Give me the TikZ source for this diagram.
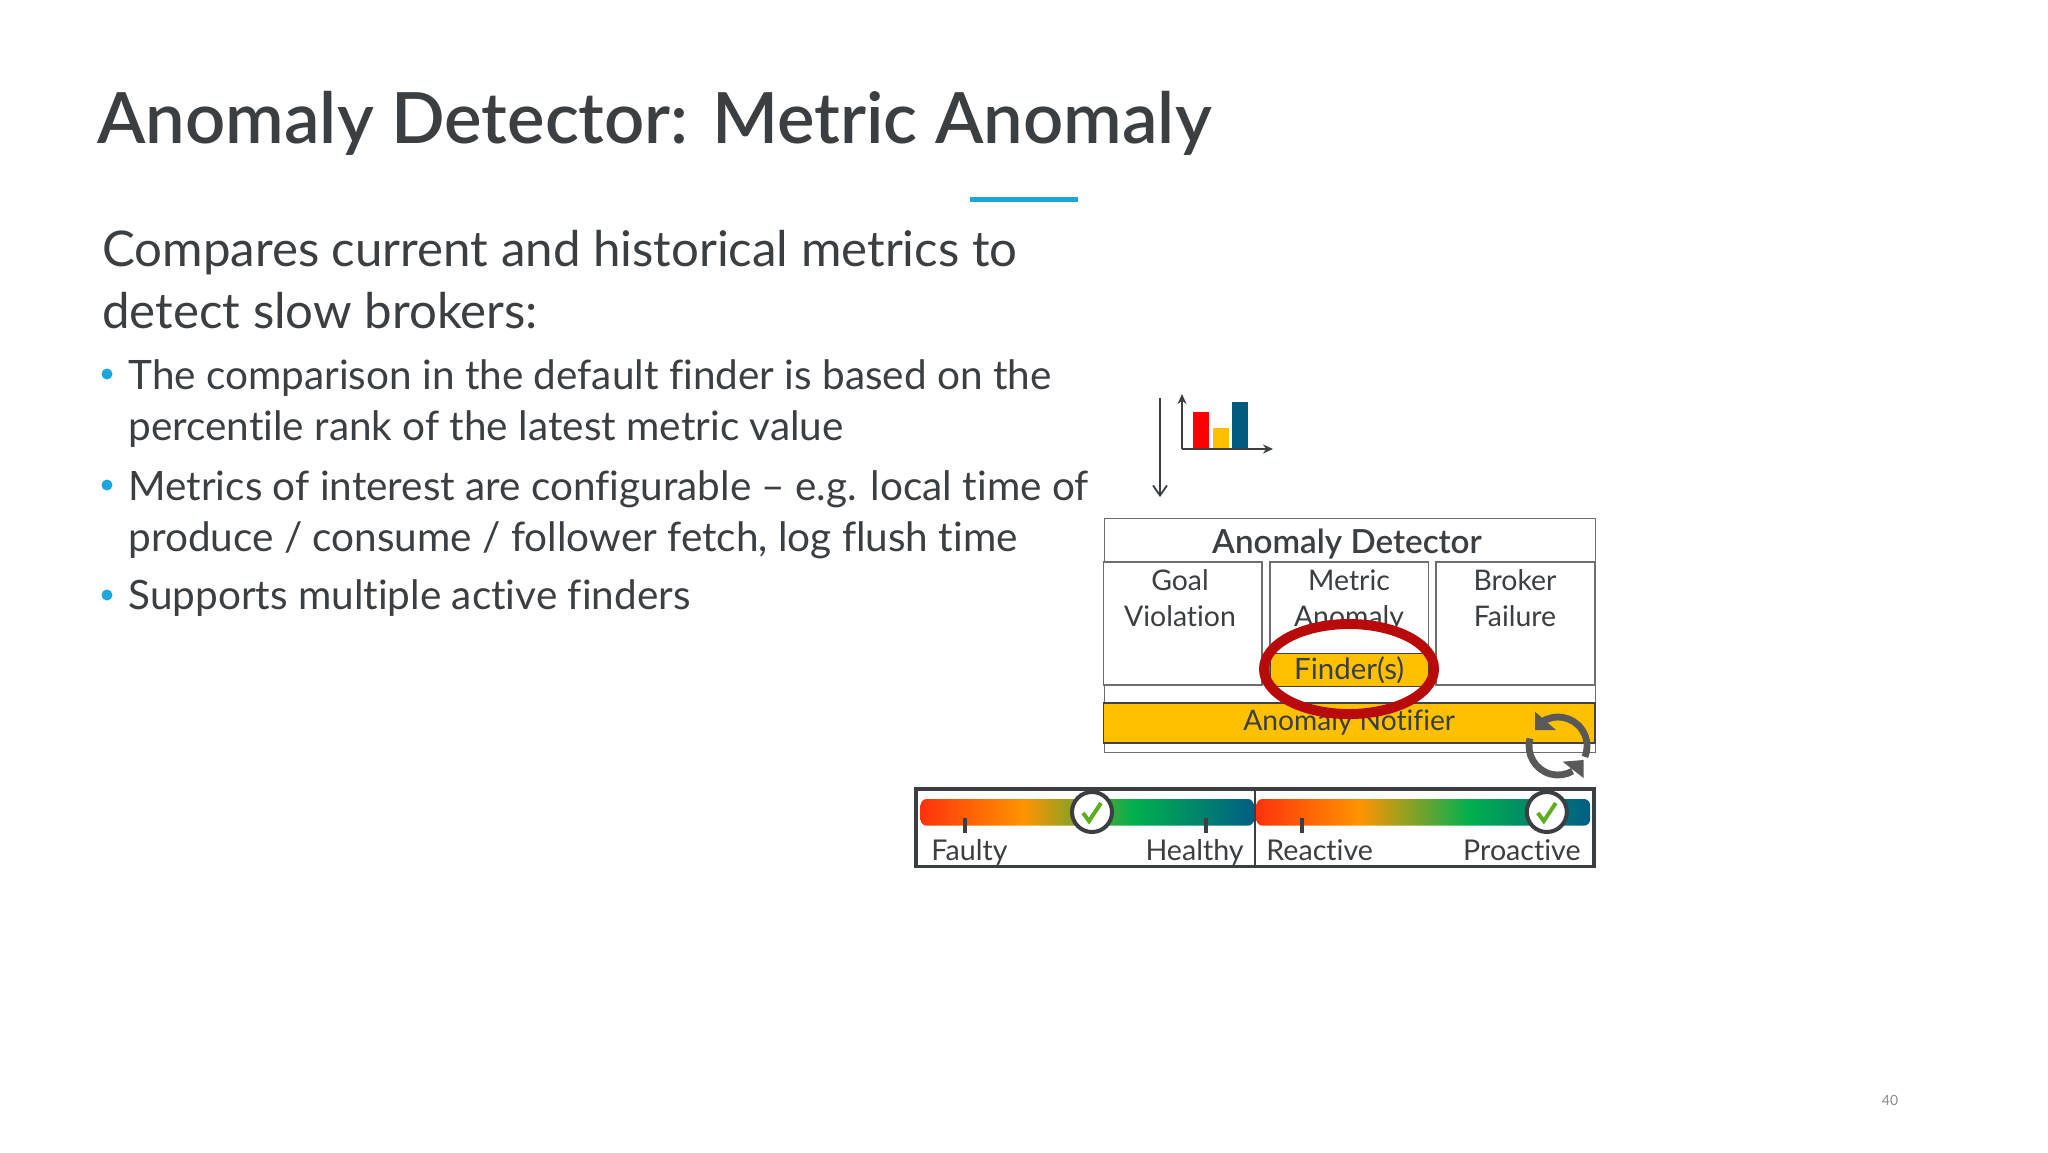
\documentclass[tikz,border=0pt]{standalone}
\usepackage{fontspec}
\setmainfont{Lato}[Ligatures=NoCommon,BoldFont={Lato Semibold}]
\usetikzlibrary{arrows.meta}
\definecolor{ink}{HTML}{3B3F42}
\definecolor{accent}{HTML}{1AA7DC}
\definecolor{gold}{HTML}{FFC000}
\definecolor{ringred}{HTML}{B80A0A}
\definecolor{boxline}{HTML}{6E6E6E}
\definecolor{iconcol}{HTML}{595959}
\definecolor{barblue}{HTML}{005A7D}
\definecolor{checkgreen}{HTML}{5BAF1E}
\pgfdeclarehorizontalshading{scale}{100bp}{rgb(0bp)=(1,0.2,0.05); rgb(25bp)=(1,0.2,0.05); rgb(40.5bp)=(1,0.58,0); rgb(57bp)=(0,0.69,0.31); rgb(75bp)=(0,0.37,0.52); rgb(100bp)=(0,0.37,0.52)}
\tikzset{
  x=0.5pt,y=-0.5pt,
  txt/.style={anchor=base west,inner sep=0pt,text=ink},
  body/.style={txt,font=\fontsize{20.25}{24}\selectfont},
  lead/.style={txt,font=\fontsize{24.6}{28}\selectfont},
  dot/.style={circle,fill=accent,inner sep=0pt,minimum size=5.5pt},
  frame/.style={draw=boxline,line width=0.6pt,fill=white},
  lab/.style={inner sep=0pt,text=ink,align=center,font=\fontsize{14.2}{18}\selectfont},
  glabel/.style={inner sep=0pt,text=ink,font=\fontsize{14.3}{18}\selectfont},
  thumb/.style={circle,draw=ink,line width=2pt,fill=white,minimum size=20pt,inner sep=0pt},
  tick/.style={draw=ink,line width=2pt},
  axis/.style={draw=ink,line width=1.2pt,-{Stealth[length=5pt,width=4.5pt]}},
  check/.style={draw=checkgreen,line width=2pt},
  refresh/.style={draw=iconcol,line width=3.4pt}
}
\begin{document}
\begin{tikzpicture}
\useasboundingbox[fill=white] (0,0) rectangle (2048,1152);
% title
\node[txt,font=\fontsize{35.3}{40}\selectfont\bfseries] (title) at (97,143) {Anomaly Detector: Metric Anomaly};
\fill[accent] (970,196.5) rectangle (1078,201.5);
% body
\node[lead] (l1) at (102,266.5) {Compares current and historical metrics to};
\node[lead] (l2) at (102,328.5) {detect slow brokers:};
\node[dot] (d1) at (107,374) {};
\node[body] (b1) at (128,389) {The comparison in the default finder is based on the};
\node[body] (b2) at (128,440.5) {percentile rank of the latest metric value};
\node[dot] (d2) at (107,485) {};
\node[body] (b3) at (128,500) {Metrics of interest are configurable – e.g. local time of};
\node[body] (b4) at (128,551) {produce / consume / follower fetch, log flush time};
\node[dot] (d3) at (107,595) {};
\node[body] (b5) at (128,609) {Supports multiple active finders};
% chart
\coordinate (org) at (1182,449);
\coordinate (ytop) at (1182,394);
\coordinate (xend) at (1273,449);
\fill[red] (1193,411.7) rectangle (1209,449);
\fill[gold] (1213,428) rectangle (1229,449);
\fill[barblue] (1232,402) rectangle (1248,449);
\draw[axis] (org) -- (ytop);
\draw[axis] (org) -- (xend);
% arrow
\coordinate (as) at (1160,398);
\coordinate (ae) at (1160,497);
\draw[draw=ink,line width=0.9pt,-{Straight Barb[length=5pt,width=7pt]}] (as) -- (ae);
% detector
\node[frame,minimum width=245.7pt,minimum height=117pt,anchor=north west,inner sep=0pt] (outer) at (1103.5,518) {};
\node[font=\fontsize{16.6}{20}\selectfont\bfseries,text=ink,inner sep=0pt] (odt) at (1347,544) {Anomaly Detector};
\draw[frame] (1103.5,562) rectangle (1262,685);
\draw[frame] (1270,562) rectangle (1428.5,686);
\draw[frame] (1436,562) rectangle (1595,685);
\node[lab,anchor=north] (gv) at (1180,569) {Goal\\Violation};
\node[lab,anchor=north] (ma) at (1349,569) {Metric\\Anomaly};
\node[lab,anchor=north] (bf) at (1515,569) {Broker\\Failure};
\node[draw=boxline!60!black,line width=0.4pt,fill=gold,minimum width=79.2pt,minimum height=16.5pt,inner sep=0pt,text=ink,font=\fontsize{14.7}{18}\selectfont] (finder) at (1349.2,670) {\raisebox{-1pt}{Finder(s)}};
\node[draw=boxline!60!black,line width=0.6pt,fill=gold,minimum width=245.7pt,minimum height=20pt,inner sep=0pt,text=ink,font=\fontsize{14.1}{18}\selectfont] (notif) at (1349.2,723) {\raisebox{-2pt}{Anomaly Notifier}};
\draw[ringred,line width=5pt] (1349,669) ellipse [x radius=85,y radius=45];
% refresh
\draw[refresh] (1558,746) ++(-125:29) arc[start angle=-125,end angle=22,radius=29];
\fill[iconcol] (1535,711.7) -- (1535,730) -- (1556,730) -- cycle;
\draw[refresh] (1558,746) ++(195:29) arc[start angle=195,end angle=60,radius=29];
\fill[iconcol] (1583.5,778) -- (1583.5,760) -- (1562.7,761.7) -- cycle;
% gauges
\shade[shading=scale,rounded corners=3pt] (920.7,799) rectangle (1253.7,825.7);
\shade[shading=scale,rounded corners=3pt] (1256.5,799) rectangle (1590,825.7);
\draw[ink,line width=1.8pt] (916,789) rectangle (1594,866.5);
\coordinate (dt) at (1255,789);
\coordinate (db) at (1255,866.5);
\draw[ink,line width=1.3pt] (dt) -- (db);
\draw[tick] (964.8,818) -- (964.8,832.7);
\draw[tick] (1206.4,818) -- (1206.4,832.7);
\draw[tick] (1301.5,818) -- (1301.5,832.7);
\node[thumb] (t1) at (1092,812) {};
\node[thumb] (t2) at (1546.8,812) {};
\draw[check] (1083,813) -- (1089,821) -- (1101,803);
\draw[check] (1537.8,813) -- (1543.8,821) -- (1555.8,803);
\node[glabel,anchor=base west] (f) at (931,860) {Faulty};
\node[glabel,anchor=base east] (h) at (1244,860) {Healthy};
\node[glabel,anchor=base west] (r) at (1266,860) {Reactive};
\node[glabel,anchor=base east] (p) at (1581,860) {Proactive};
\node[inner sep=0pt,text=black!45,font=\fontsize{7}{8}\selectfont] (pg) at (1890,1100) {40};
\end{tikzpicture}
\end{document}
